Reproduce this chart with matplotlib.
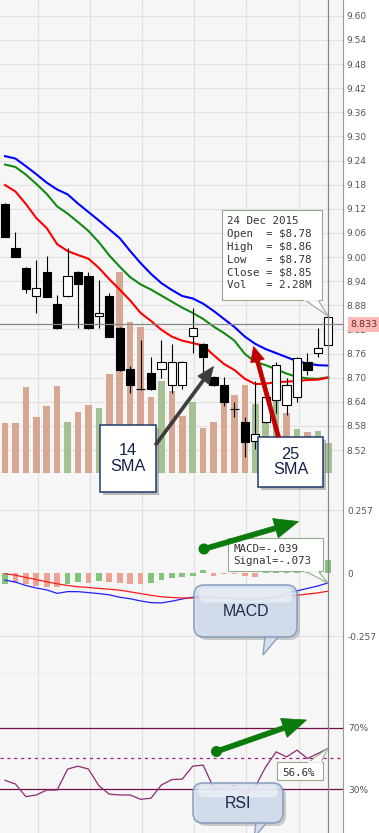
import numpy as np
import matplotlib
matplotlib.use("Agg")
import matplotlib.pyplot as plt
from matplotlib.patches import Rectangle, FancyBboxPatch, Polygon, FancyArrow, Circle
from matplotlib.transforms import blended_transform_factory

# ---- daily bars (last bar = 24 Dec 2015) ---------------------------------
opens = [9.132, 9.023, 8.972, 8.903, 8.962, 8.883, 8.903, 8.962, 8.953, 8.853,
         8.903, 8.823, 8.721, 8.671, 8.711, 8.721, 8.682, 8.682, 8.804, 8.783,
         8.701, 8.682, 8.621, 8.590, 8.543, 8.590, 8.645, 8.632, 8.653, 8.740,
         8.761, 8.78]
highs = [9.135, 9.062, 8.975, 8.993, 9.003, 8.906, 9.023, 8.965, 8.962, 8.943,
         8.911, 8.825, 8.730, 8.794, 8.751, 8.794, 8.783, 8.742, 8.872, 8.785,
         8.703, 8.701, 8.640, 8.601, 8.692, 8.655, 8.740, 8.700, 8.752, 8.761,
         8.823, 8.86]
lows = [9.050, 9.000, 8.911, 8.862, 8.900, 8.821, 8.900, 8.823, 8.820, 8.823,
        8.800, 8.717, 8.661, 8.670, 8.670, 8.698, 8.661, 8.671, 8.761, 8.711,
        8.680, 8.629, 8.601, 8.502, 8.522, 8.588, 8.612, 8.607, 8.640, 8.707,
        8.751, 8.78]
closes = [9.050, 9.001, 8.921, 8.922, 8.901, 8.823, 8.953, 8.932, 8.823, 8.862,
          8.802, 8.719, 8.682, 8.671, 8.671, 8.740, 8.740, 8.740, 8.823, 8.751,
          8.682, 8.640, 8.621, 8.541, 8.561, 8.651, 8.731, 8.682, 8.750, 8.720,
          8.773, 8.85]
volume_m = [3.74, 3.74, 6.44, 4.19, 5.04, 6.54, 3.83, 4.56, 5.11, 4.86,
            7.42, 15.11, 11.38, 11.0, 5.69, 6.94, 6.19, 4.29, 5.36, 3.36,
            3.81, 6.02, 5.86, 6.62, 5.17, 3.98, 5.64, 4.49, 3.29, 3.11,
            3.16, 2.28]
volume_up = [0, 0, 0, 0, 0, 0, 1, 0, 0, 1, 0, 0, 0, 0, 0, 1, 0, 0, 1, 0,
             0, 0, 0, 0, 1, 1, 1, 0, 1, 0, 1, 1]
last_price = 8.833

# moving averages (red = fast, green = mid, blue = slow)
sma_fast = [9.179, 9.163, 9.132, 9.097, 9.072, 9.032, 9.015, 9.005, 8.996, 8.973,
            8.945, 8.919, 8.892, 8.861, 8.841, 8.819, 8.802, 8.792, 8.786, 8.780,
            8.756, 8.734, 8.719, 8.697, 8.684, 8.685, 8.689, 8.690, 8.692, 8.694,
            8.695, 8.700]
sma_mid = [9.230, 9.224, 9.205, 9.182, 9.157, 9.126, 9.108, 9.087, 9.065, 9.037,
           9.004, 8.976, 8.950, 8.932, 8.919, 8.904, 8.889, 8.874, 8.861, 8.846,
           8.827, 8.811, 8.792, 8.759, 8.739, 8.731, 8.721, 8.710, 8.702, 8.698,
           8.697, 8.701]
sma_slow = [9.251, 9.245, 9.226, 9.206, 9.185, 9.168, 9.156, 9.133, 9.112, 9.091,
            9.069, 9.047, 9.015, 8.985, 8.958, 8.935, 8.918, 8.903, 8.897, 8.884,
            8.866, 8.846, 8.826, 8.802, 8.784, 8.771, 8.761, 8.751, 8.741, 8.735,
            8.731, 8.730]

# MACD panel
macd_line = [-0.028, -0.036, -0.050, -0.060, -0.068, -0.082, -0.075, -0.075, -0.079, -0.083,
             -0.088, -0.098, -0.104, -0.113, -0.120, -0.121, -0.114, -0.105, -0.098, -0.093,
             -0.096, -0.101, -0.105, -0.108, -0.109, -0.105, -0.098, -0.080, -0.072, -0.062,
             -0.052, -0.039]
macd_signal = [-0.002, -0.008, -0.017, -0.026, -0.035, -0.043, -0.050, -0.055, -0.058, -0.062,
               -0.065, -0.069, -0.076, -0.083, -0.090, -0.096, -0.099, -0.101, -0.101, -0.101,
               -0.101, -0.101, -0.101, -0.101, -0.100, -0.099, -0.097, -0.093, -0.090, -0.085,
               -0.080, -0.073]
macd_hist = [-0.042, -0.038, -0.045, -0.052, -0.056, -0.058, -0.042, -0.035, -0.039, -0.030,
             -0.036, -0.041, -0.044, -0.043, -0.039, -0.027, -0.018, -0.015, -0.011, 0.012,
             -0.010, -0.003, -0.004, -0.011, -0.016, 0.004, 0.011, 0.017, 0.021, 0.035,
             0.044, 0.055]
macd_hist_up = [1, 0, 0, 0, 0, 0, 1, 1, 0, 1, 0, 0, 0, 0, 1, 1, 1, 1, 1, 1,
                0, 0, 0, 0, 0, 1, 1, 1, 1, 1, 1, 1]

# RSI panel
rsi = [35.8, 33.4, 25.2, 26.3, 29.5, 29.5, 43.1, 45.0, 43.1, 32.3,
       26.8, 26.3, 26.3, 23.5, 24.2, 32.8, 36.3, 36.6, 45.0, 45.7,
       31.0, 30.5, 32.5, 26.5, 31.7, 44.6, 54.3, 51.0, 55.4, 50.0,
       53.2, 56.6]

price_ticks = [8.52, 8.58, 8.64, 8.70, 8.76, 8.82, 8.88, 8.94, 9.00, 9.06,
               9.12, 9.18, 9.24, 9.30, 9.36, 9.42, 9.48, 9.54, 9.60]
macd_ticks = [0.257, 0.0, -0.257]
macd_tick_labels = ["0.257", "0", "-0.257"]
rsi_ticks = [70, 30]
rsi_tick_labels = ["70%", "30%"]
grid_x = [3.15, 8.15, 13.15, 18.15, 23.15, 28.15]

# ---- layout (pixel boxes of the 379x833 picture) --------------------------
W, H = 379, 833


def px_rect(x0, y0, x1, y1):
    return [x0 / W, 1 - y1 / H, (x1 - x0) / W, (y1 - y0) / H]


BG = "#f6f6f6"
GRID = "#e1e1e1"
FRAME = "#9a9a9a"
CROSS = "#888888"
LABEL = "#555555"
VOL_DN, VOL_UP = "#d6a894", "#a6c295"
HIST_DN, HIST_UP = "#eda393", "#84c37c"
RSI_C, RSI_LVL = "#8c2a74", "#760b4c"
MONO = "DejaVu Sans Mono"
SANS = "Liberation Sans"

x = np.arange(len(closes))
XLIM = (-0.48, 32.41)

fig = plt.figure(figsize=(W / 100, H / 100), dpi=100)
fig.patch.set_facecolor("white")

ax_vol = fig.add_axes(px_rect(0, 0, 343, 473))
ax_p = ax_vol.twinx()
ax_m = fig.add_axes(px_rect(0, 473, 343, 673), sharex=ax_vol)
ax_r = fig.add_axes(px_rect(0, 673, 343, 833), sharex=ax_vol)

for a in (ax_vol, ax_m, ax_r):
    a.set_facecolor(BG)
    for g in grid_x:
        a.axvline(g, color=GRID, lw=0.8, zorder=0)
for a in (ax_vol, ax_p, ax_m, ax_r):
    for s in a.spines.values():
        s.set_visible(False)
    a.tick_params(axis="x", bottom=False, labelbottom=False)
ax_vol.set_xlim(*XLIM)
ax_p.spines["right"].set_visible(True)
ax_p.spines["right"].set_color(FRAME)
ax_vol.spines["bottom"].set_visible(True)
ax_vol.spines["bottom"].set_color(FRAME)
ax_m.spines["right"].set_visible(True)
ax_m.spines["right"].set_color(FRAME)
ax_m.spines["bottom"].set_visible(True)
ax_m.spines["bottom"].set_color(FRAME)
ax_r.spines["right"].set_visible(True)
ax_r.spines["right"].set_color(FRAME)

# ---- price panel -----------------------------------------------------------
ax_vol.set_yticks([])
ax_vol.set_ylim(0, 35.56)
ax_p.set_ylim(8.4628, 9.6394)
trans = blended_transform_factory(ax_vol.transAxes, ax_p.transData)
for p in price_ticks:
    ax_vol.plot([0, 1], [p, p], transform=trans, color=GRID, lw=0.8, zorder=0)

ax_vol.bar(x, volume_m, width=0.62,
           color=[VOL_UP if u else VOL_DN for u in volume_up], zorder=1)

ax_p.plot(x, sma_slow, color="#0000ff", lw=1.5, zorder=2)
ax_p.plot(x, sma_mid, color="#118a11", lw=1.5, zorder=2)
ax_p.plot(x, sma_fast, color="#ff0000", lw=1.5, zorder=2)

o, c = np.array(opens), np.array(closes)
ax_p.vlines(x, lows, highs, color="black", lw=0.8, zorder=3)
ax_p.bar(x, np.abs(c - o), bottom=np.minimum(o, c), width=0.8,
         color=["white" if cc >= oo else "black" for oo, cc in zip(o, c)],
         edgecolor="black", lw=0.8, zorder=4)

ax_p.axhline(last_price, color=CROSS, lw=0.9, zorder=5)
ax_p.axvline(x[-1], color=CROSS, lw=0.9, zorder=5)

ax_p.set_yticks(price_ticks)
ax_p.set_yticklabels([f"{p:.2f}" for p in price_ticks])
ax_p.tick_params(axis="y", right=True, length=0, pad=2.5,
                 labelsize=6.5, labelcolor=LABEL)
ax_p.annotate(f"{last_price:.3f}", xy=(1, last_price),
              xycoords=("axes fraction", "data"), xytext=(5.5, 0),
              textcoords="offset points", va="center", ha="left",
              fontsize=6.8, color="#6b2a2a", annotation_clip=False, zorder=10,
              bbox=dict(boxstyle="square,pad=0.3", fc="#ffb9b9", ec="none"))

# ---- MACD panel ------------------------------------------------------------
ax_m.set_ylim(-0.407, 0.409)
for t in (0.257, -0.257):
    ax_m.axhline(t, color=GRID, lw=0.8, zorder=0)
ax_m.bar(x, macd_hist, width=0.55,
         color=[HIST_UP if u else HIST_DN for u in macd_hist_up], zorder=1)
ax_m.plot(x, macd_line, color="#2020ff", lw=0.9, zorder=2)
ax_m.plot(x, macd_signal, color="#ff1a1a", lw=0.9, zorder=2)
ax_m.axvline(x[-1], color=CROSS, lw=0.9, zorder=5)
ax_m.yaxis.tick_right()
ax_m.set_yticks(macd_ticks)
ax_m.set_yticklabels(macd_tick_labels)
ax_m.tick_params(axis="y", length=0, pad=3.5, labelsize=6.5, labelcolor=LABEL)

# ---- RSI panel -------------------------------------------------------------
ax_r.set_ylim(1.6, 105.5)
ax_r.axhline(70, color=RSI_LVL, lw=0.9, zorder=1)
ax_r.axhline(30, color=RSI_LVL, lw=0.9, zorder=1)
ax_r.axhline(50, color="#9a1d78", lw=0.9, ls=(0, (2.5, 3)), zorder=1)
ax_r.plot(x, rsi, color=RSI_C, lw=0.9, zorder=2)
ax_r.axvline(x[-1], color=CROSS, lw=0.9, zorder=5)
ax_r.yaxis.tick_right()
ax_r.set_yticks(rsi_ticks)
ax_r.set_yticklabels(rsi_tick_labels)
ax_r.tick_params(axis="y", length=0, pad=3.5, labelsize=6.5, labelcolor=LABEL)

# ---- call-outs, drawn on a pixel overlay -----------------------------------
ann = fig.add_axes([0, 0, 1, 1], zorder=10)
ann.set_xlim(0, W)
ann.set_ylim(H, 0)
ann.axis("off")
ann.patch.set_alpha(0)


def tooltip(x0, y0, w, h, lines, tail, dy=13):
    ec = "#93ad8c"
    ann.add_patch(Polygon(tail, closed=True, fc="white", ec=ec, lw=0.8))
    ann.add_patch(Rectangle((x0, y0), w, h, fc="white", ec=ec, lw=0.8))
    # reopen the box edge where the tail leaves it
    ann.plot([tail[0][0], tail[1][0]], [tail[0][1], tail[1][1]],
             color="white", lw=1.2)
    for k, s in enumerate(lines):
        ann.text(x0 + 5, y0 + 10.5 + k * dy, s, family=MONO, fontsize=7.8,
                 color="#333333", va="center", ha="left")


def sma_box(x0, y0, w, h, label):
    ann.add_patch(Rectangle((x0 + 3, y0 + 3), w, h, fc="#6f6f6f", ec="none",
                            alpha=0.45))
    ann.add_patch(Rectangle((x0, y0), w, h, fc="white", ec="#203a6a", lw=1.1))
    ann.text(x0 + w / 2, y0 + h / 2, label, family=SANS, fontsize=11.7,
             color="#14214a", ha="center", va="center", linespacing=1.05)


def bubble(x0, y0, w, h, label, tail):
    ann.add_patch(FancyBboxPatch((x0 + 3, y0 + 3), w, h,
                                 boxstyle="round,pad=0,rounding_size=10",
                                 fc="#7a7a7a", ec="none", alpha=0.35))
    ann.add_patch(Polygon(tail, closed=True, fc="#cfdcf0", ec="#7f93b3",
                          lw=1.0, alpha=0.85))
    ann.add_patch(FancyBboxPatch((x0, y0), w, h,
                                 boxstyle="round,pad=0,rounding_size=10",
                                 fc="#d3e0f2", ec="#7f93b3", lw=1.2, alpha=0.82))
    ann.add_patch(FancyBboxPatch((x0 + 5, y0 + 3), w - 10, h * 0.28,
                                 boxstyle="round,pad=0,rounding_size=6",
                                 fc="white", ec="none", alpha=0.45))
    ann.text(x0 + w / 2, y0 + h / 2 + 1, label, family=SANS, fontsize=11.4,
             color="#1b2a4a", ha="center", va="center")


def arrow(x0, y0, x1, y1, color, width, head_w, head_l, dot=None):
    ann.add_patch(FancyArrow(x0, y0, x1 - x0, y1 - y0, width=width,
                             head_width=head_w, head_length=head_l,
                             length_includes_head=True, fc=color, ec=color,
                             lw=0.5))
    if dot:
        ann.add_patch(Circle((x0, y0), dot, fc=color, ec="none"))


# OHLC tooltip for the last bar
tooltip(222, 210, 100, 90,
        ["24 Dec 2015",
         f"Open  = ${opens[-1]:.2f}",
         f"High  = ${highs[-1]:.2f}",
         f"Low   = ${lows[-1]:.2f}",
         f"Close = ${closes[-1]:.2f}",
         f"Vol   = {volume_m[-1]:.2f}M"],
        [(305, 300), (318, 300), (328, 316)])

sma_box(100, 425, 56, 67, "14\nSMA")
arrow(155.5, 445, 213.5, 366.5, "#3c3c3c", 3.0, 14, 17)
sma_box(258, 437, 65, 50, "25\nSMA")
arrow(278.5, 437, 253.5, 346.5, "#c00000", 4.0, 14, 15)


def short(v):
    return f"{v:.3f}".replace("0.", ".")


tooltip(228, 538, 95, 33,
        [f"MACD={short(macd_line[-1])}", f"Signal={short(macd_signal[-1])}"],
        [(305, 571), (318, 571), (328, 583)], dy=13)
arrow(204, 549, 298.5, 521.5, "#0a7a0a", 5.0, 20, 24, dot=5.5)
bubble(194, 585, 103, 52, "MACD", [(265, 636), (263, 655), (279, 636)])

tooltip(277, 762, 46, 18, [f"{rsi[-1]:.1f}%"],
        [(309, 762), (321, 762), (328, 748)])
arrow(216.5, 751.5, 306.5, 720, "#0a7a0a", 5.0, 20, 24, dot=5.5)
bubble(193, 783, 90, 40, "RSI", [(256, 822), (254, 838), (267, 822)])

fig.savefig("out.png", dpi=100, facecolor="white")
